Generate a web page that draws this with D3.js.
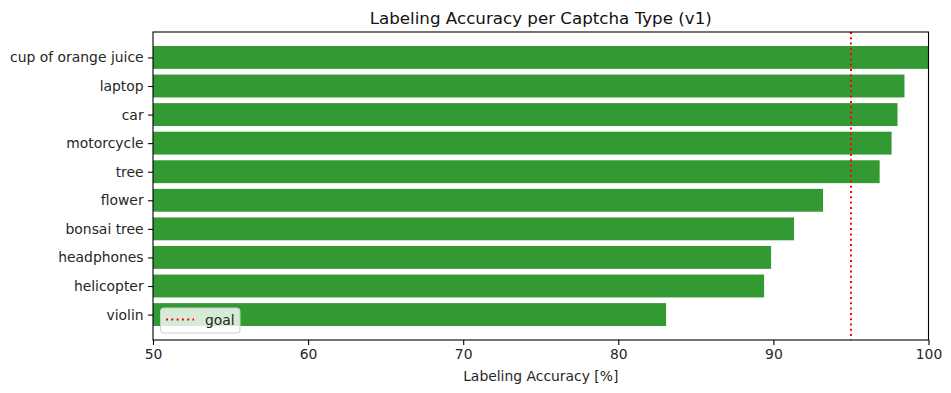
<!DOCTYPE html>
<html>
<head>
<meta charset="utf-8">
<script src="https://cdn.jsdelivr.net/npm/d3@7"></script>
<style>
  body { margin: 0; background: #fff; }
  svg { font-family: "DejaVu Sans", sans-serif; }
</style>
</head>
<body>
<svg id="chart" width="951" height="393"></svg>
<script>
const categories = ['cup of orange juice', 'laptop', 'car', 'motorcycle', 'tree',
  'flower', 'bonsai tree', 'headphones', 'helicopter', 'violin'];
const accuracy = [100, 98.45, 98.0, 97.62, 96.85, 93.2, 91.33, 89.85, 89.4, 83.08];
const xTicks = [50, 60, 70, 80, 90, 100];
const goal = 95;

const MARGIN = { TOP: 32, BOTTOM: 53, LEFT: 153, RIGHT: 22.5 };
const width = 951, height = 393;

const svg = d3.select('#chart');

const x = d3.scaleLinear()
  .domain([50, 100])
  .range([MARGIN.LEFT, width - MARGIN.RIGHT]);

// matplotlib style: bars at integer positions, height 0.8, 5% margins
const n = categories.length;
const pad = 0.4 + (n - 1 + 0.8) * 0.05;
const y = d3.scaleLinear()
  .domain([-pad, n - 1 + pad])
  .range([MARGIN.TOP, height - MARGIN.BOTTOM]);
const barH = y(0.8) - y(0);

svg.append('g')
  .attr('class', 'bars')
  .selectAll('rect')
  .data(accuracy)
  .enter()
  .append('rect')
  .attr('x', x(50))
  .attr('y', (d, i) => y(i) - barH / 2)
  .attr('width', d => x(d) - x(50))
  .attr('height', barH)
  .attr('fill', '#339933');

// goal line
svg.append('line')
  .attr('x1', x(goal)).attr('x2', x(goal))
  .attr('y1', y.range()[0]).attr('y2', y.range()[1])
  .attr('stroke', '#ff0000')
  .attr('stroke-width', 2)
  .attr('stroke-dasharray', '2,3.3');

// frame
svg.append('rect')
  .attr('x', x.range()[0]).attr('y', y.range()[0])
  .attr('width', x.range()[1] - x.range()[0])
  .attr('height', y.range()[1] - y.range()[0])
  .attr('fill', 'none')
  .attr('stroke', 'black')
  .attr('stroke-width', 1.1);

const xAxis = svg.append('g')
  .attr('transform', `translate(0,${y.range()[1]})`)
  .call(d3.axisBottom(x).tickValues(xTicks).tickSize(4.9).tickPadding(4.5).tickFormat(d3.format('d')));

const yAxis = svg.append('g')
  .attr('transform', `translate(${x.range()[0]},0)`)
  .call(d3.axisLeft(y).tickValues(d3.range(n)).tickSize(4.9).tickPadding(4.5).tickFormat(i => categories[i]));

[xAxis, yAxis].forEach(a => {
  a.select('.domain').remove();
  a.selectAll('.tick line').attr('stroke', 'black').attr('stroke-width', 1.1);
  a.selectAll('.tick text')
    .attr('fill', '#262626')
    .style('font-size', '13.9px')
    .style('font-family', '"DejaVu Sans", sans-serif');
});

svg.append('text')
  .attr('x', (x.range()[0] + x.range()[1]) / 2)
  .attr('y', 24)
  .attr('text-anchor', 'middle')
  .style('font-size', '16.7px')
  .attr('fill', '#111')
  .text('Labeling Accuracy per Captcha Type (v1)');

svg.append('text')
  .attr('x', (x.range()[0] + x.range()[1]) / 2)
  .attr('y', 381)
  .attr('text-anchor', 'middle')
  .style('font-size', '13.9px')
  .attr('fill', '#262626')
  .text('Labeling Accuracy [%]');

// legend
const legend = svg.append('g').attr('class', 'legend');
legend.append('rect')
  .attr('x', 160.5).attr('y', 308)
  .attr('width', 79.5).attr('height', 25)
  .attr('rx', 3)
  .attr('fill', 'rgba(255,255,255,0.8)')
  .attr('stroke', '#cccccc')
  .attr('stroke-width', 1);
legend.append('line')
  .attr('x1', 166).attr('x2', 194)
  .attr('y1', 319.5).attr('y2', 319.5)
  .attr('stroke', '#ff0000')
  .attr('stroke-width', 2)
  .attr('stroke-dasharray', '2,3.3');
legend.append('text')
  .attr('x', 205).attr('y', 325)
  .style('font-size', '13.9px')
  .attr('fill', '#262626')
  .text('goal');
</script>
</body>
</html>
